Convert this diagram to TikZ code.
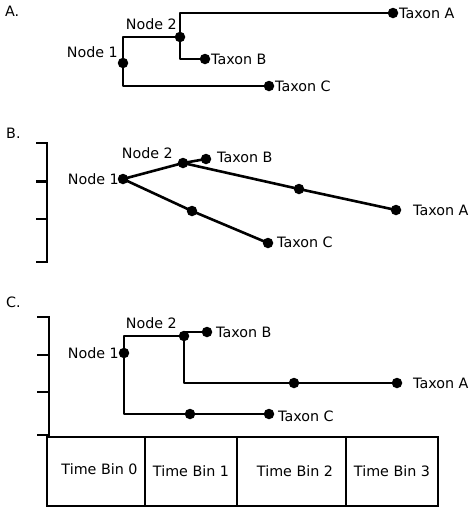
\documentclass[tikz,border=0pt]{standalone}
\usepackage{fontspec}
\setmainfont{DejaVu Sans}
\begin{document}
\begin{tikzpicture}[x=1pt,y=-1pt,
  dot/.style={circle,fill=black,inner sep=0pt,minimum size=10.5pt},
  lbl/.style={inner sep=0pt,font=\fontsize{14.3}{16}\selectfont},
  br/.style={line width=2.6pt,line cap=round,line join=round},
  bar/.style={line width=2.6pt},
  boxl/.style={line width=2.4pt}]
\useasboundingbox (0,0) rectangle (474,512);

% ---------- Panel A ----------
\node[lbl,anchor=west] (labA) at (5,11) {A.};
\node[dot] (a1) at (123,63) {};
\node[dot] (a2) at (180,37) {};
\node[dot] (aA) at (393,13) {};
\node[dot] (aB) at (205,59) {};
\node[dot] (aC) at (269,86) {};
\draw[br] (a1.center) |- (a2.center);
\draw[br] (a2.center) |- (aA.center);
\draw[br] (a2.center) |- (aB.center);
\draw[br] (a1.center) |- (aC.center);
\node[lbl,anchor=east] (a1t) at (118,52) {Node 1};
\node[lbl,anchor=east] (a2t) at (177,24) {Node 2};
\node[lbl,anchor=west] (aAt) at (399,13) {Taxon A};
\node[lbl,anchor=west] (aBt) at (211,59) {Taxon B};
\node[lbl,anchor=west] (aCt) at (275,86) {Taxon C};

% ---------- Panel B ----------
\node[lbl,anchor=west] (labB) at (6,133) {B.};
\coordinate (bt0) at (47,143);
\coordinate (bt3) at (47,262);
\draw[bar] (36,143) -- (bt0) -- (bt3) -- (36,262);
\draw[bar] (36,181.5) -- (47,181.5);
\draw[bar] (36,219) -- (47,219);
\node[dot] (b1) at (123,179) {};
\node[dot] (b2) at (183,163) {};
\node[dot] (bB) at (206,159) {};
\node[dot] (bmA) at (299,189) {};
\node[dot] (bA) at (396,210) {};
\node[dot] (bmC) at (192,211) {};
\node[dot] (bC) at (268,243) {};
\draw[br] (b1.center) -- (b2.center) -- (bB.center);
\draw[br] (b2.center) -- (bmA.center) -- (bA.center);
\draw[br] (b1.center) -- (bmC.center) -- (bC.center);
\node[lbl,anchor=east] (b1t) at (119,179) {Node 1};
\node[lbl,anchor=east] (b2t) at (173,153) {Node 2};
\node[lbl,anchor=west] (bBt) at (217,157) {Taxon B};
\node[lbl,anchor=west] (bAt) at (413,210) {Taxon A};
\node[lbl,anchor=west] (bCt) at (277,242) {Taxon C};

% ---------- Panel C ----------
\node[lbl,anchor=west] (labC) at (6,302) {C.};
\draw[bar] (37,317) -- (49,317) -- (49,437);
\draw[bar] (37,355) -- (49,355);
\draw[bar] (37,392) -- (49,392);
\draw[bar] (37,435) -- (49,435);
\node[dot] (c1) at (124,353) {};
\node[dot] (c2) at (184,336) {};
\node[dot] (cB) at (207,332) {};
\node[dot] (cmA) at (294,383) {};
\node[dot] (cA) at (397,383) {};
\node[dot] (cmC) at (190,414) {};
\node[dot] (cC) at (269,414) {};
\draw[br] (c1.center) |- (c2.center);
\draw[br] (c2.center) |- (cB.center);
\draw[br] (c2.center) |- (cmA.center) -- (cA.center);
\draw[br] (c1.center) |- (cmC.center) -- (cC.center);
\node[lbl,anchor=east] (c1t) at (119,353) {Node 1};
\node[lbl,anchor=east] (c2t) at (177,323) {Node 2};
\node[lbl,anchor=west] (cBt) at (216,332) {Taxon B};
\node[lbl,anchor=west] (cAt) at (413,383) {Taxon A};
\node[lbl,anchor=west] (cCt) at (278,416) {Taxon C};

% time bins
\draw[boxl] (47,437) rectangle (438,506);
\draw[boxl] (145,437) -- (145,506);
\draw[boxl] (237,437) -- (237,506);
\draw[boxl] (346,437) -- (346,506);
\node[lbl] (tb0) at (99.5,469) {Time Bin 0};
\node[lbl] (tb1) at (191,471) {Time Bin 1};
\node[lbl] (tb2) at (295,471) {Time Bin 2};
\node[lbl] (tb3) at (392,471) {Time Bin 3};
\end{tikzpicture}
\end{document}
